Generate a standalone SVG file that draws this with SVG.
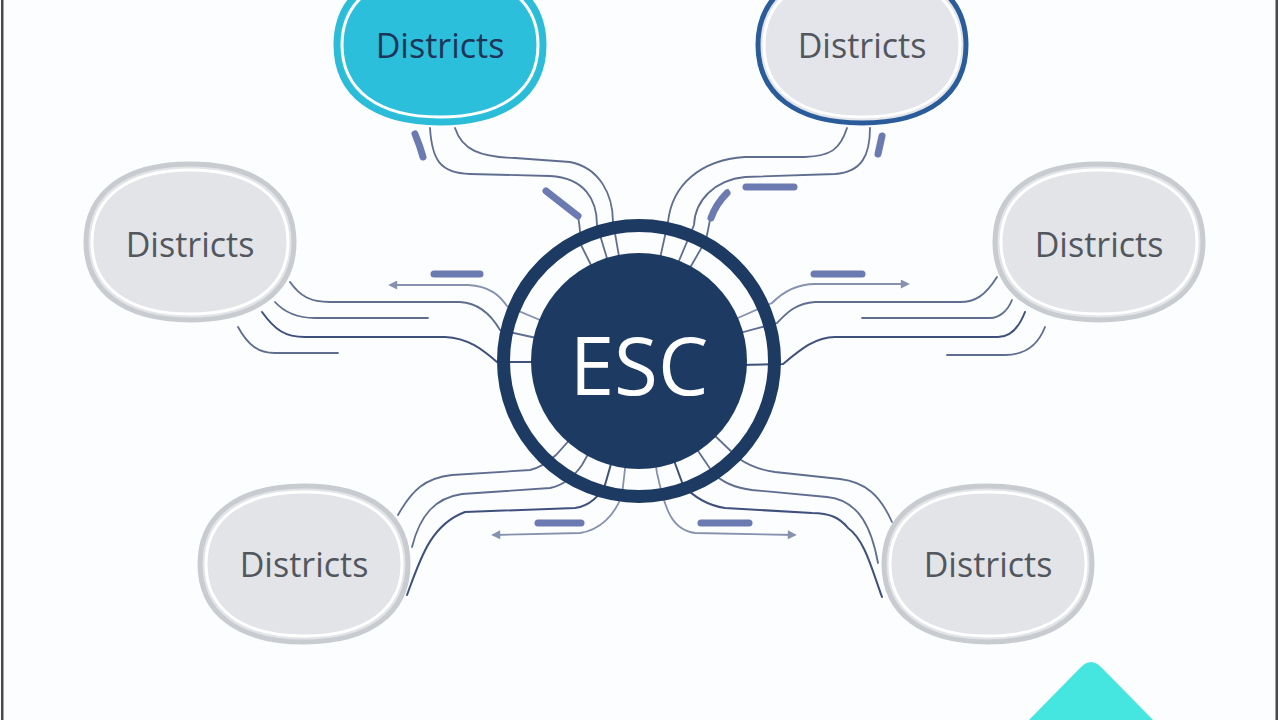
<svg xmlns="http://www.w3.org/2000/svg" xmlns:xlink="http://www.w3.org/1999/xlink" width="1280" height="720" viewBox="0 0 1280 720">
<defs>
<style>
.ln{fill:none;stroke:#5f6d8f;stroke-width:1.8;stroke-linecap:round}
.dk{fill:none;stroke:#3f507c;stroke-width:2;stroke-linecap:round}
.ar{fill:none;stroke:#8691ae;stroke-width:1.8}
.bar{fill:none;stroke:#6b7bb2;stroke-width:7;stroke-linecap:round}
.nodeOut{fill:#e2e4e8;stroke:#c8cbcf;stroke-width:5}
.nodeIn{fill:none;stroke:#ffffff;stroke-width:3}
.lbl{font-family:"Open Sans","Noto Sans","Liberation Sans",sans-serif;font-size:34px;fill:#52575e;text-anchor:middle}
</style>
<path id="outer" d="M-104,0 C-104,-49 -66,-78 0,-78 C66,-78 104,-49 104,0 C104,49 66,78 0,78 C-66,78 -104,49 -104,0 Z"/>
<path id="inner" d="M-98,0 C-98,-45 -62,-72 0,-72 C62,-72 98,-45 98,0 C98,45 62,72 0,72 C-62,72 -98,45 -98,0 Z"/>
<marker id="ah" viewBox="0 0 10 10" refX="8" refY="5" markerWidth="11" markerHeight="9" markerUnits="userSpaceOnUse" orient="auto-start-reverse">
<path d="M0,0 L10,5 L0,10 Z" fill="#8691ae"/>
</marker>
</defs>
<rect width="1280" height="720" fill="#fcfdfe"/>
<rect x="1" y="0" width="2.5" height="720" fill="#4a4a4a"/>
<rect x="1275.5" y="0" width="2.5" height="720" fill="#4a4a4a"/>

<g id="connectors">
<!-- top-left -->
<path class="ln" d="M430,128 C432,160 440,173 470,174 L550,176 C585,178 597,200 597,225 L609,265"/>
<path class="ln" d="M455,128 C462,150 480,157 515,158 L570,162 C600,168 613,195 613,222 L620,262"/>
<path class="ln" d="M548,192 L578,217 C580,225 580,232 581,245 L594,271"/>
<path class="bar" d="M415,134 Q420,146 423,157"/>
<path class="bar" d="M546,191 L578,216"/>
<!-- top-right -->
<path class="ln" d="M847,128 C840,150 830,156 805,157 L745,157 C700,160 672,185 668,222 L659,263"/>
<path class="ln" d="M870,128 C870,155 862,172 835,174 L745,177 C715,180 695,200 694,225 L676,268"/>
<path class="ln" d="M728,190 Q715,202 710,220 L706,240 L687,273"/>
<path class="bar" d="M882,136 L878,154"/>
<path class="bar" d="M746,187 L794,187"/>
<path class="bar" d="M727,193 Q716,204 711,218"/>
<!-- left -->
<path class="ar" marker-start="url(#ah)" d="M390,285 L468,285 C490,286 500,296 507,306 L547,323"/>
<path class="ln" d="M290,282 C300,296 310,302 330,302 L460,302 C480,303 493,318 500,330 L541,339"/>
<path class="ln" d="M275,302 C285,313 298,318 315,318 L428,318"/>
<path class="dk" d="M262,312 C275,330 285,337 305,337 L445,337 C470,338 485,352 497,362 L539,362"/>
<path class="ln" d="M238,327 C248,345 258,353 275,353 L338,353"/>
<path class="bar" d="M434,274 L480,274"/>
<!-- right -->
<path class="ar" marker-end="url(#ah)" d="M731,321 L772,303 C785,290 798,284 815,284 L908,284"/>
<path class="ln" d="M997,277 C985,296 975,302 960,302 L815,302 C795,303 785,315 777,323 L736,334"/>
<path class="ln" d="M862,318 L990,318 C1000,318 1008,310 1012,300"/>
<path class="dk" d="M739,365 L783,364 C800,350 815,337 835,337 L998,337 C1012,337 1020,325 1025,312"/>
<path class="ln" d="M947,355 L1005,355 C1025,355 1038,345 1045,327"/>
<path class="bar" d="M814,274 L862,274"/>
<!-- bottom-left -->
<path class="ln" d="M398,515 C412,490 425,478 452,475 L530,470 C540,468 548,462 556,455 L573,436"/>
<path class="ln" d="M412,547 C420,515 435,498 462,494 L550,488 C565,485 575,475 582,465 L591,449"/>
<path class="dk" d="M407,595 C420,560 430,525 465,512 L575,508 C590,506 600,495 605,485 L613,457"/>
<path class="ar" marker-start="url(#ah)" d="M493,535 L580,533 C600,530 615,515 622,495 L626,460"/>
<path class="bar" d="M538,523 L581,523"/>
<!-- bottom-right -->
<path class="ln" d="M892,522 C880,495 865,482 840,479 L775,472 C760,470 748,465 738,458 L710,431"/>
<path class="ln" d="M878,563 C872,530 860,500 827,497 L752,490 C735,488 722,482 713,473 L694,445"/>
<path class="dk" d="M882,597 C872,570 865,540 848,528 C840,518 830,513 812,513 L725,508 C705,505 692,495 683,485 L672,455"/>
<path class="ar" marker-end="url(#ah)" d="M655,460 L657,473 C665,510 672,530 695,533 L795,535"/>
<path class="bar" d="M701,523 L749,523"/>
</g>

<g id="esc">
<circle cx="639" cy="361" r="135.5" fill="none" stroke="#1c3a62" stroke-width="13"/>
<circle cx="639" cy="361" r="108" fill="#1c3a62"/>
<text x="639" y="395" font-family="'Open Sans','Noto Sans','Liberation Sans',sans-serif" font-size="80" fill="#ffffff" text-anchor="middle">ESC</text>
</g>

<g id="node-top-left" transform="translate(440,45)">
<use xlink:href="#outer" fill="#2cbfdb" stroke="#2bbcd8" stroke-width="5"/>
<use xlink:href="#inner" class="nodeIn"/>
<text class="lbl" x="0" y="13" style="fill:#1d3557">Districts</text>
</g>
<g id="node-top-right" transform="translate(862,45)">
<use xlink:href="#outer" fill="#e3e5ea" stroke="#2a5b9a" stroke-width="5"/>
<use xlink:href="#inner" class="nodeIn"/>
<text class="lbl" x="0" y="13">Districts</text>
</g>
<g id="node-left" transform="translate(190,242)">
<use xlink:href="#outer" class="nodeOut"/>
<use xlink:href="#inner" class="nodeIn"/>
<text class="lbl" x="0" y="15">Districts</text>
</g>
<g id="node-right" transform="translate(1099,242)">
<use xlink:href="#outer" class="nodeOut"/>
<use xlink:href="#inner" class="nodeIn"/>
<text class="lbl" x="0" y="15">Districts</text>
</g>
<g id="node-bottom-left" transform="translate(304,564)">
<use xlink:href="#outer" class="nodeOut"/>
<use xlink:href="#inner" class="nodeIn"/>
<text class="lbl" x="0" y="13">Districts</text>
</g>
<g id="node-bottom-right" transform="translate(988,564)">
<use xlink:href="#outer" class="nodeOut"/>
<use xlink:href="#inner" class="nodeIn"/>
<text class="lbl" x="0" y="13">Districts</text>
</g>

<path id="corner-shape" d="M1029,720 L1080,668 Q1091,656 1102,668 L1153,720 Z" fill="#45e6df"/>
</svg>
